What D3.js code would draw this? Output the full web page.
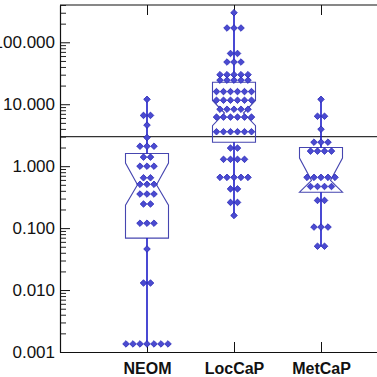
<!DOCTYPE html>
<html>
<head>
<meta charset="utf-8">
<script src="https://cdn.jsdelivr.net/npm/d3@7"></script>
<style>
  html, body { margin: 0; padding: 0; background: #fff; overflow: hidden; }
  svg { display: block; font-family: "Liberation Sans", Arial, sans-serif; }
</style>
</head>
<body>
<div id="chart"></div>
<script>
const categories = ["NEOM", "LocCaP", "MetCaP"];

// individual observations (one diamond each)
const neomValues = [12, 6.6, 6.6, 4.6, 2.9, 2.1, 2.1, 2.1, 1.4, 1.4, 1.0, 1.0, 1.0,
    0.65, 0.65, 0.51, 0.51, 0.51, 0.355, 0.355, 0.355, 0.245, 0.245, 0.12, 0.12, 0.12,
    0.046, 0.013, 0.013, 0.00135, 0.00135, 0.00135, 0.00135, 0.00135, 0.00135, 0.00135];
const locCaPValues = [300, 170, 170, 170, 66, 66, 48, 48, 48, 30, 30, 30, 30, 30,
    24.5, 24.5, 24.5, 24.5, 24.5, 16, 16, 16, 16, 16, 16, 11.6, 11.6, 11.6, 11.6, 11.6, 11.6,
    8.3, 8.3, 8.3, 8.3, 8.3, 6.2, 6.2, 6.2, 6.2, 6.2, 6.2, 3.6, 3.6, 3.6, 3.6, 3.6, 3.6,
    1.96, 1.96, 1.29, 1.29, 1.29, 1.29, 0.66, 0.66, 0.66, 0.66, 0.66, 0.43, 0.43, 0.26, 0.26, 0.16];
const metCaPValues = [12, 6.4, 6.4, 3.95, 2.44, 2.44, 2.44, 1.75, 1.75, 1.75, 1.75,
    0.66, 0.66, 0.66, 0.66, 0.66, 0.47, 0.47, 0.47, 0.47, 0.28, 0.28, 0.104, 0.104, 0.104, 0.051, 0.051];

// box plot summaries, in category order
const q1 = [0.069, 2.44, 0.38];
const median = [0.5, 7.2, 0.59];
const q3 = [1.6, 22.6, 2.0];
const notchLow = [0.235, 4.5, 0.38];
const notchHigh = [1.12, 11.5, 1.35];
const whiskerLow = [0.00135, 0.16, 0.051];
const whiskerHigh = [12, 300, 12];

const referenceValue = 3;
const yMajorTicks = [0.001, 0.01, 0.1, 1, 10, 100];

function createNotchedBoxPlot(selector = "#chart") {
    const width = 377;
    const height = 377;
    const margin = { top: 5, left: 60, bottom: 25 };
    const plotRight = 408; // frame runs past the visible window

    const groups = [neomValues, locCaPValues, metCaPValues];

    const svg = d3.select(selector)
        .html("")
        .append("svg")
        .attr("width", width)
        .attr("height", height);

    const x = d3.scalePoint()
        .domain(categories)
        .range([margin.left, plotRight])
        .padding(1);

    const y = d3.scaleLog()
        .domain([0.001, 400])
        .range([height - margin.bottom, margin.top]);

    const minorTicks = [];
    for (let e = -3; e <= 2; e++) {
        for (let m = 2; m <= 9; m++) {
            const v = m * Math.pow(10, e);
            if (v <= 400) minorTicks.push(v);
        }
    }

    // frame
    svg.append("line")
        .attr("x1", margin.left).attr("x2", plotRight)
        .attr("y1", margin.top).attr("y2", margin.top)
        .attr("stroke", "#111").attr("stroke-width", 1.2);

    // reference line
    svg.append("line")
        .attr("x1", margin.left).attr("x2", plotRight)
        .attr("y1", y(referenceValue)).attr("y2", y(referenceValue))
        .attr("stroke", "#333").attr("stroke-width", 1.1);

    // left axis: minor ticks
    svg.append("g")
        .attr("transform", `translate(${margin.left},0)`)
        .call(d3.axisLeft(y).tickValues(minorTicks).tickSize(-6).tickFormat(""))
        .call(g => g.select(".domain").remove())
        .call(g => g.selectAll("line").attr("stroke", "#222"));

    // left axis: major ticks and labels
    svg.append("g")
        .attr("transform", `translate(${margin.left},0)`)
        .call(d3.axisLeft(y).tickValues(yMajorTicks).tickSize(-10).tickSizeOuter(0)
            .tickPadding(5).tickFormat(d3.format(".3f")))
        .call(g => g.select(".domain").attr("stroke", "#111").attr("stroke-width", 1.2))
        .call(g => g.selectAll("line").attr("stroke", "#111"))
        .call(g => g.selectAll("text")
            .style("font-size", "17px")
            .attr("fill", "#111"));

    // bottom axis
    svg.append("g")
        .attr("transform", `translate(0,${height - margin.bottom})`)
        .call(d3.axisBottom(x).tickSize(-10).tickSizeOuter(0).tickPadding(11))
        .call(g => g.select(".domain").attr("stroke", "#111").attr("stroke-width", 1.2))
        .call(g => g.selectAll("line").attr("stroke", "#111"))
        .call(g => g.selectAll("text")
            .style("font-size", "16px")
            .style("font-weight", "bold")
            .attr("fill", "#111"));

    // top ticks
    svg.append("g")
        .attr("transform", `translate(0,${margin.top})`)
        .call(d3.axisTop(x).tickSize(-10).tickSizeOuter(0).tickFormat(""))
        .call(g => g.select(".domain").remove())
        .call(g => g.selectAll("line").attr("stroke", "#111"));

    const boxHalf = 21.5;
    const notchHalf = 9.5;

    // notched boxes
    svg.selectAll(".box")
        .data(categories)
        .join("path")
        .attr("class", "box")
        .attr("d", (c, i) => {
            const cx = x(c);
            const pts = [
                [cx - boxHalf, y(q3[i])], [cx + boxHalf, y(q3[i])],
                [cx + boxHalf, y(notchHigh[i])], [cx + notchHalf, y(median[i])],
                [cx + boxHalf, y(notchLow[i])], [cx + boxHalf, y(q1[i])],
                [cx - boxHalf, y(q1[i])], [cx - boxHalf, y(notchLow[i])],
                [cx - notchHalf, y(median[i])], [cx - boxHalf, y(notchHigh[i])]
            ];
            return d3.line()(pts) + "Z";
        })
        .attr("fill", "none")
        .attr("stroke", "#4646b0")
        .attr("stroke-width", 1.1);

    // whiskers
    svg.selectAll(".whisker-hi")
        .data(categories)
        .join("line")
        .attr("class", "whisker-hi")
        .attr("x1", c => x(c)).attr("x2", c => x(c))
        .attr("y1", (c, i) => y(q3[i])).attr("y2", (c, i) => y(whiskerHigh[i]))
        .attr("stroke", "#1c1cc8").attr("stroke-width", 1.6);

    svg.selectAll(".whisker-lo")
        .data(categories)
        .join("line")
        .attr("class", "whisker-lo")
        .attr("x1", c => x(c)).attr("x2", c => x(c))
        .attr("y1", (c, i) => y(q1[i])).attr("y2", (c, i) => y(whiskerLow[i]))
        .attr("stroke", "#1c1cc8").attr("stroke-width", 1.6);

    // dots: equal values stacked side by side
    const dotStep = 7;
    const dots = [];
    groups.forEach((vals, i) => {
        const counts = d3.rollup(vals, v => v.length, v => v);
        counts.forEach((n, v) => {
            for (let k = 0; k < n; k++) {
                dots.push({ cat: categories[i], value: v, offset: (k - (n - 1) / 2) * dotStep });
            }
        });
    });

    svg.selectAll(".dot")
        .data(dots)
        .join("path")
        .attr("class", "dot")
        .attr("transform", d => `translate(${x(d.cat) + d.offset},${y(d.value)})`)
        .attr("d", "M0,-3.3L3.3,0L0,3.3L-3.3,0Z")
        .attr("fill", "#4a4ad0")
        .attr("stroke", "#2828b8")
        .attr("stroke-width", 0.8);
}

createNotchedBoxPlot();
</script>
</body>
</html>
